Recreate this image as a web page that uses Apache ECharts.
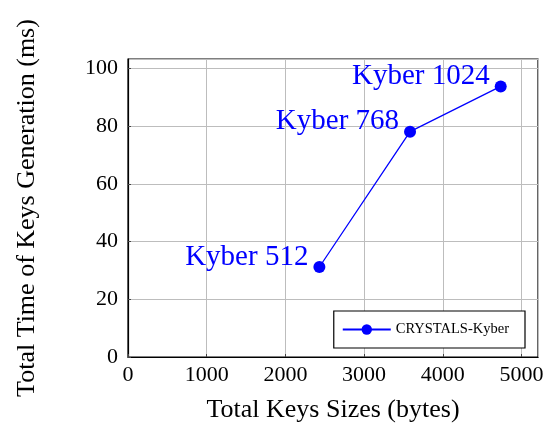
<!DOCTYPE html>
<html>
<head>
<meta charset="utf-8">
<title>Kyber key generation</title>
<script src="https://cdn.jsdelivr.net/npm/echarts@6/dist/echarts.min.js"></script>
<style>
  html, body { margin: 0; padding: 0; background: #fff; }
  #main { width: 550px; height: 443px; }
</style>
</head>
<body>
<div id="main"></div>
<script type="text/javascript">
// data
var variants = ['Kyber 512', 'Kyber 768', 'Kyber 1024'];
var keySizes = [2432, 3584, 4736];      // bytes (pk + sk)
var genTimes = [31.2, 78.1, 93.8];      // ms
var seriesName = 'CRYSTALS-Kyber';

var font = 'Liberation Serif';
var chart = echarts.init(document.getElementById('main'));

var option = {
    backgroundColor: '#fff',
    animation: false,
    grid: {
        left: 128, right: 12, top: 59, bottom: 86,
        show: true, borderColor: '#000', borderWidth: 1.2
    },
    legend: {
        data: [seriesName],
        right: 25, bottom: 95,
        orient: 'horizontal',
        backgroundColor: '#fff',
        borderColor: '#000', borderWidth: 1.2,
        padding: [11, 16, 11, 8],
        itemWidth: 48, itemHeight: 13,
        textStyle: { fontFamily: font, fontSize: 14.5, color: '#000' }
    },
    xAxis: {
        type: 'value',
        min: 0, max: 5210, interval: 1000,
        name: 'Total Keys Sizes (bytes)',
        nameLocation: 'middle', nameGap: 40,
        nameTextStyle: { fontFamily: font, fontSize: 26, color: '#000' },
        axisLine: { show: true, onZero: false, lineStyle: { color: '#000', width: 1.2 } },
        axisTick: { show: true, inside: true, length: 3, lineStyle: { color: '#444' } },
        axisLabel: { fontFamily: font, fontSize: 22, color: '#000', margin: 7,
            showMaxLabel: false,
            formatter: function (v) { return String(v); } },
        splitLine: { show: true, lineStyle: { color: '#bdbdbd', width: 1 } }
    },
    yAxis: {
        type: 'value',
        min: 0, max: 103.3, interval: 20,
        name: 'Total Time of Keys Generation (ms)',
        nameLocation: 'middle', nameGap: 88,
        nameTextStyle: { fontFamily: font, fontSize: 26, color: '#000' },
        axisLine: { show: true, lineStyle: { color: '#000', width: 1.2 } },
        axisTick: { show: true, inside: true, length: 3, lineStyle: { color: '#444' } },
        axisLabel: { fontFamily: font, fontSize: 22, color: '#000', margin: 10,
            showMaxLabel: false },
        splitLine: { show: true, lineStyle: { color: '#bdbdbd', width: 1 } }
    },
    series: [{
        name: seriesName,
        type: 'line',
        symbol: 'circle',
        symbolSize: 12,
        color: '#0000ff',
        lineStyle: { color: '#0000ff', width: 1.3 },
        itemStyle: { color: '#0000ff' },
        label: {
            show: true,
            position: 'left',
            distance: 5,
            offset: [0, -10],
            fontFamily: font,
            fontSize: 29,
            color: '#0000ff',
            formatter: function (p) { return variants[p.dataIndex]; }
        },
        data: keySizes.map(function (x, i) { return [x, genTimes[i]]; })
    }]
};

chart.setOption(option);
</script>
</body>
</html>
